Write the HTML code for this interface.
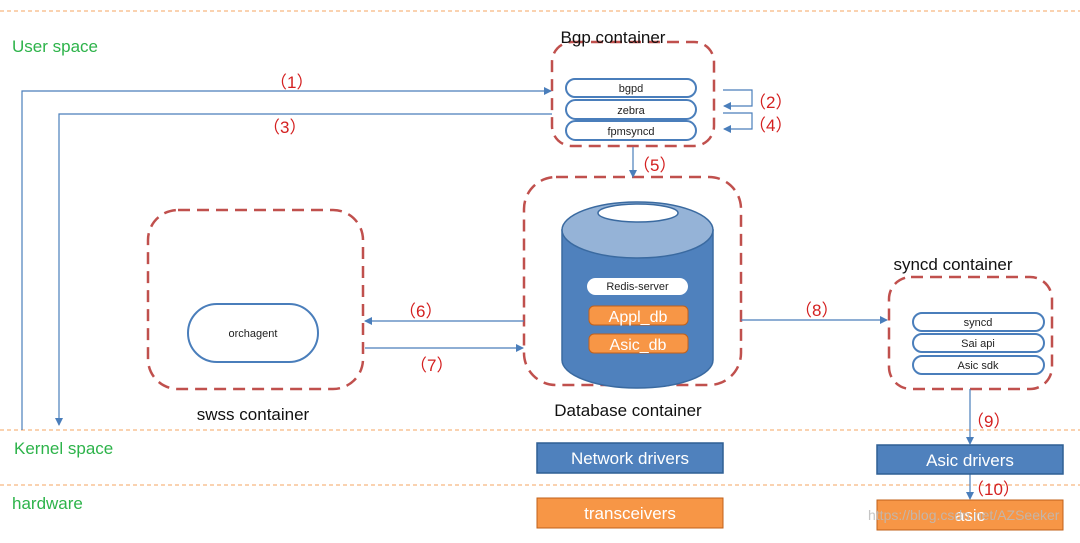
<!DOCTYPE html>
<html><head><meta charset="utf-8"><style>
html,body{margin:0;padding:0;background:#fff;}
svg{display:block;font-family:"Liberation Sans","Noto Sans CJK SC",sans-serif;}
</style></head><body>
<svg width="1080" height="543" viewBox="0 0 1080 543" xmlns="http://www.w3.org/2000/svg">
<defs>
<marker id="a" markerWidth="8" markerHeight="8" refX="7" refY="4" orient="auto" markerUnits="userSpaceOnUse"><path d="M0,0 L8,4 L0,8 z" fill="#4a7ebb"/></marker>
</defs>
<g stroke="#f4a460" stroke-width="1" stroke-dasharray="4,3">
<line x1="0" y1="11" x2="1080" y2="11"/>
<line x1="0" y1="430" x2="1080" y2="430"/>
<line x1="0" y1="485" x2="1080" y2="485"/>
</g>
<g fill="#2db34a" font-size="17">
<text x="12" y="52">User space</text>
<text x="14" y="454">Kernel space</text>
<text x="12" y="509">hardware</text>
</g>
<g fill="none" stroke="#c0504d" stroke-width="2.5" stroke-dasharray="12,7">
<rect x="552" y="42" width="162" height="104" rx="20"/>
<rect x="524" y="177" width="217" height="208" rx="32"/>
<rect x="148" y="210" width="215" height="179" rx="30"/>
<rect x="889" y="277" width="163" height="112" rx="22"/>
</g>
<g font-size="17" fill="#111" text-anchor="middle">
<text x="613" y="43">Bgp container</text>
<text x="628" y="416">Database container</text>
<text x="253" y="420">swss container</text>
<text x="953" y="270">syncd container</text>
</g>
<g fill="#fff" stroke="#4a7ebb" stroke-width="2">
<rect x="566" y="79" width="130" height="18" rx="9"/>
<rect x="566" y="100" width="130" height="19" rx="9.5"/>
<rect x="566" y="121" width="130" height="19" rx="9.5"/>
<rect x="913" y="313" width="131" height="18" rx="9"/>
<rect x="913" y="334" width="131" height="18" rx="9"/>
<rect x="913" y="356" width="131" height="18" rx="9"/>
<rect x="188" y="304" width="130" height="58" rx="29"/>
</g>
<g font-size="11" fill="#222" text-anchor="middle">
<text x="631" y="92">bgpd</text>
<text x="631" y="114">zebra</text>
<text x="631" y="135">fpmsyncd</text>
<text x="978" y="326">syncd</text>
<text x="978" y="347">Sai api</text>
<text x="978" y="369">Asic sdk</text>
<text x="253" y="337">orchagent</text>
</g>
<path d="M562,230 L562,360 A75.5,28 0 0 0 713,360 L713,230 Z" fill="#4f81bd" stroke="#3a6aa0" stroke-width="1.5"/>
<ellipse cx="637.5" cy="230" rx="75.5" ry="28" fill="#95b3d7" stroke="#3a6aa0" stroke-width="1.5"/>
<ellipse cx="638" cy="213" rx="40" ry="9" fill="#fff" stroke="#3a6aa0" stroke-width="1.5"/>
<rect x="587" y="278" width="101" height="17" rx="8.5" fill="#fff"/>
<text x="637.5" y="290" font-size="11" text-anchor="middle" fill="#222">Redis-server</text>
<rect x="589" y="306" width="99" height="19" rx="5" fill="#f79646" stroke="#c0601a"/>
<rect x="589" y="334" width="99" height="19" rx="5" fill="#f79646" stroke="#c0601a"/>
<g font-size="16" fill="#fff" text-anchor="middle">
<text x="638" y="322">Appl_db</text>
<text x="638" y="350">Asic_db</text>
</g>
<g fill="none" stroke="#4a7ebb" stroke-width="1.2">
<polyline points="22,430 22,91 551,91" marker-end="url(#a)"/>
<polyline points="552,114 59,114 59,425" marker-end="url(#a)"/>
<polyline points="723,90 752,90 752,106 724,106" marker-end="url(#a)"/>
<polyline points="723,113 752,113 752,129 724,129" marker-end="url(#a)"/>
<line x1="633" y1="147" x2="633" y2="177" marker-end="url(#a)"/>
<line x1="524" y1="321" x2="365" y2="321" marker-end="url(#a)"/>
<line x1="365" y1="348" x2="523" y2="348" marker-end="url(#a)"/>
<line x1="741" y1="320" x2="887" y2="320" marker-end="url(#a)"/>
<line x1="970" y1="389" x2="970" y2="444" marker-end="url(#a)"/>
<line x1="970" y1="474" x2="970" y2="499" marker-end="url(#a)"/>
</g>
<g fill="#d42020" font-size="17">
<text x="270" y="88">（1）</text>
<text x="749" y="108">（2）</text>
<text x="263" y="133">（3）</text>
<text x="749" y="131">（4）</text>
<text x="633" y="171">（5）</text>
<text x="399" y="317">（6）</text>
<text x="410" y="371">（7）</text>
<text x="795" y="316">（8）</text>
<text x="967" y="427">（9）</text>
<text x="967" y="495">（10）</text>
</g>
<rect x="537" y="443" width="186" height="30" fill="#4f81bd" stroke="#2f5f94" stroke-width="1.5"/>
<rect x="877" y="445" width="186" height="29" fill="#4f81bd" stroke="#2f5f94" stroke-width="1.5"/>
<rect x="537" y="498" width="186" height="30" fill="#f79646" stroke="#c0601a" stroke-width="1"/>
<rect x="877" y="500" width="186" height="30" fill="#f79646" stroke="#c0601a" stroke-width="1"/>
<g fill="#fff" font-size="17" text-anchor="middle">
<text x="630" y="464">Network drivers</text>
<text x="970" y="466">Asic drivers</text>
<text x="630" y="519">transceivers</text>
<text x="970" y="521">asic</text>
</g>
<text x="868" y="520" font-size="14" fill="#bbb" fill-opacity="0.85">https://blog.csdn.net/AZSeeker</text>
</svg>
</body></html>
